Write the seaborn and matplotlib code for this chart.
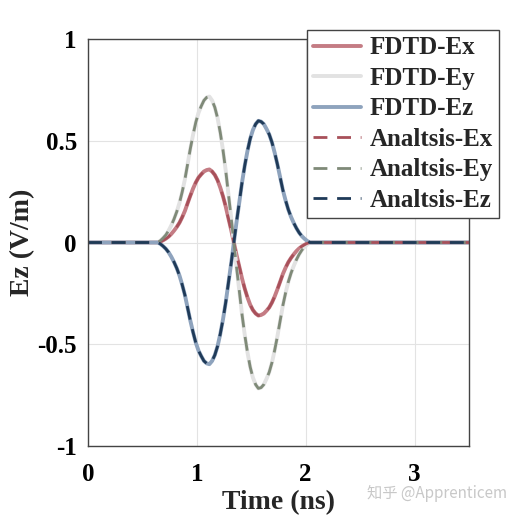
import numpy as np
import pandas as pd
import matplotlib
matplotlib.use('Agg')
import matplotlib.pyplot as plt
import seaborn as sns

# time samples (ns) and field values
t = [0.0, 0.600,
     0.640, 0.665, 0.690, 0.715, 0.740, 0.765, 0.790, 0.815, 0.840, 0.865,
     0.890, 0.915, 0.940, 0.965, 0.990, 1.015, 1.040, 1.065, 1.090, 1.115,
     1.140, 1.165, 1.190, 1.215, 1.240, 1.265, 1.290, 1.315, 1.340, 1.365,
     1.390, 1.415, 1.440, 1.465, 1.490, 1.515, 1.540, 1.565, 1.590, 1.615,
     1.640, 1.665, 1.690, 1.715, 1.740, 1.765, 1.790, 1.815, 1.840, 1.865,
     1.890, 1.915, 1.940, 1.965, 1.990, 2.015, 2.040,
     2.100, 3.5]

ex = [0, 0,
      0, 0.004, 0.011, 0.019, 0.029, 0.042, 0.058, 0.076, 0.097, 0.124,
      0.155, 0.193, 0.230, 0.265, 0.295, 0.319, 0.335, 0.349, 0.356, 0.359,
      0.349, 0.332, 0.306, 0.270, 0.227, 0.177, 0.119, 0.062, 0, -0.062,
      -0.119, -0.177, -0.227, -0.270, -0.306, -0.332, -0.349, -0.359, -0.356, -0.349,
      -0.335, -0.319, -0.295, -0.265, -0.230, -0.193, -0.155, -0.124, -0.097, -0.076,
      -0.058, -0.042, -0.029, -0.019, -0.011, -0.004, 0,
      0, 0]
ey = [0, 0,
      0, 0.009, 0.022, 0.037, 0.058, 0.084, 0.115, 0.151, 0.194, 0.248,
      0.310, 0.385, 0.461, 0.529, 0.590, 0.637, 0.670, 0.698, 0.713, 0.717,
      0.698, 0.664, 0.612, 0.540, 0.454, 0.354, 0.238, 0.123, 0, -0.123,
      -0.238, -0.354, -0.454, -0.540, -0.612, -0.664, -0.698, -0.717, -0.713, -0.698,
      -0.670, -0.637, -0.590, -0.529, -0.461, -0.385, -0.310, -0.248, -0.194, -0.151,
      -0.115, -0.084, -0.058, -0.037, -0.022, -0.009, 0,
      0, 0]
ez = [0, 0,
      0, -0.007, -0.018, -0.031, -0.048, -0.070, -0.096, -0.126, -0.162, -0.207,
      -0.258, -0.321, -0.384, -0.441, -0.492, -0.531, -0.558, -0.582, -0.594, -0.598,
      -0.582, -0.553, -0.510, -0.450, -0.378, -0.295, -0.198, -0.103, 0, 0.103,
      0.198, 0.295, 0.378, 0.450, 0.510, 0.553, 0.582, 0.598, 0.594, 0.582,
      0.558, 0.531, 0.492, 0.441, 0.384, 0.321, 0.258, 0.207, 0.162, 0.126,
      0.096, 0.070, 0.048, 0.031, 0.018, 0.007, 0,
      0, 0]

fdtd_names = ['FDTD-Ex', 'FDTD-Ey', 'FDTD-Ez']
ana_names = ['Analtsis-Ex', 'Analtsis-Ey', 'Analtsis-Ez']
fdtd_colors = ['#c47c84', '#e2e2e2', '#8ea3bd']
ana_colors = ['#a8505a', '#7f8a78', '#1f3a58']

sns.set_style('white')
plt.rcParams['font.family'] = ['Liberation Serif', 'DejaVu Serif']
plt.rcParams['font.weight'] = 'bold'

fig = plt.figure(figsize=(5.19, 5.2), dpi=100)
ax = fig.add_axes([0.1696, 0.1423, 0.734, 0.7827])

series = [ex, ey, ez]
for name, c, y in zip(fdtd_names, fdtd_colors, series):
    sns.lineplot(x=t, y=y, ax=ax, color=c, lw=2.8, label=name)
for name, c, y in zip(ana_names, ana_colors, series):
    sns.lineplot(x=t, y=y, ax=ax, color=c, lw=2.0, label=name,
                 dashes=False, linestyle=(0, (5, 3.5)))

ax.set_xlim(0, 3.5)
ax.set_ylim(-1, 1)
ax.set_xticks([0, 1, 2, 3])
ax.set_yticks([-1, -0.5, 0, 0.5, 1])
ax.set_yticklabels(['-1', '-0.5', '0', '0.5', '1'])
ax.grid(True, color='#e3e3e3', lw=0.8)
ax.tick_params(direction='in', length=4, width=0.8, labelsize=18, colors='#222222')
ax.tick_params(axis='x', pad=12)
ax.tick_params(axis='y', pad=8)
for lab in ax.get_xticklabels() + ax.get_yticklabels():
    lab.set_fontweight('bold')
    lab.set_color('black')
for s in ax.spines.values():
    s.set_visible(True)
    s.set_color('#444444')
    s.set_linewidth(1.0)

ax.set_xlabel('Time (ns)', fontsize=20, fontweight='bold', labelpad=3)
ax.set_ylabel('Ez (V/m)', fontsize=20, fontweight='bold', labelpad=2)

leg = ax.legend(loc='upper left', bbox_to_anchor=(0.575, 1.022), borderaxespad=0,
                prop={'family': 'Liberation Serif', 'weight': 'bold', 'size': 18},
                handlelength=1.9, handletextpad=0.35, labelspacing=0.3,
                frameon=True, fancybox=False, borderpad=0.25)
leg.get_frame().set_edgecolor('#444444')
leg.get_frame().set_linewidth(1.0)
leg.get_frame().set_alpha(1)

fig.text(0.708, 0.043, '知乎 @Apprenticem', color='#c8c8c8', fontsize=11,
         family=['Noto Sans CJK SC', 'DejaVu Sans'], fontweight='normal')

fig.savefig('out.png', dpi=100)
